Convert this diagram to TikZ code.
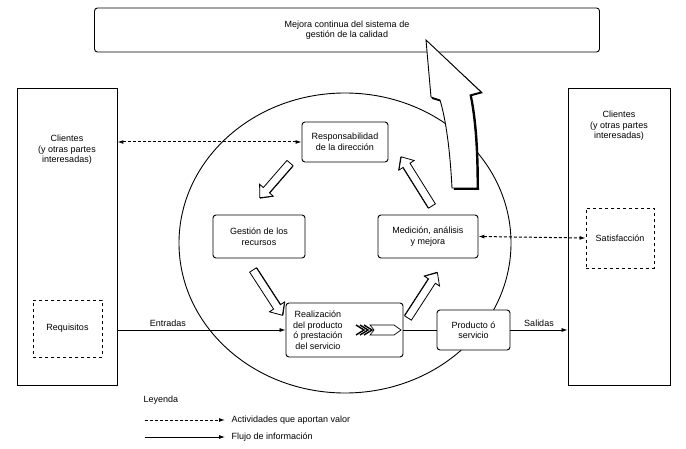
\documentclass[tikz,border=0pt]{standalone}
\usepackage{fontspec}
\setmainfont{Liberation Sans}
\usetikzlibrary{arrows.meta,shapes.geometric}
\begin{document}
\begin{tikzpicture}[x=1pt,y=-1pt,
  every node/.style={font=\fontsize{9}{10.5}\selectfont, align=center},
  box/.style={draw, line width=0.9pt, rounded corners=3pt, inner sep=0pt, fill=white},
  dbox/.style={draw, dashed, line width=0.8pt, inner sep=0pt},
  info/.style={line width=0.8pt, -{Latex[length=6pt,width=4pt]}},
  val/.style={dash pattern=on 3pt off 2pt, line width=1pt},
  fat/.pic={
    \fill[black] (0.5,-4.8) -- (\pgfkeysvalueof{/tikz/fatlen}-10,-4.8) -- (\pgfkeysvalueof{/tikz/fatlen}-10,-9.8) -- (\pgfkeysvalueof{/tikz/fatlen}+0.5,-0.8) -- (\pgfkeysvalueof{/tikz/fatlen}-10,8.2) -- (\pgfkeysvalueof{/tikz/fatlen}-10,3.2) -- (0.5,3.2) -- cycle;
    \draw[fill=white, line width=0.8pt] (0,-4) -- (\pgfkeysvalueof{/tikz/fatlen}-10,-4) -- (\pgfkeysvalueof{/tikz/fatlen}-10,-9) -- (\pgfkeysvalueof{/tikz/fatlen},0) -- (\pgfkeysvalueof{/tikz/fatlen}-10,9) -- (\pgfkeysvalueof{/tikz/fatlen}-10,4) -- (0,4) -- cycle;
  }]
\pgfkeys{/tikz/fatlen/.initial=50}
\useasboundingbox (0,0) rectangle (686,449);

% circle
\draw[line width=0.9pt] (345,243) ellipse [x radius=166, y radius=150];

% top box
\node[box, minimum width=505, minimum height=44] (top) at (347,30) {Mejora continua del sistema de\\gestión de la calidad};

% side boxes
\node[draw, line width=0.9pt, minimum width=100, minimum height=297, inner sep=0pt] (L) at (67,236.5) {};
\node (Lt) at (67,150) {Clientes\\(y otras partes\\interesadas)};
\node[dbox, minimum width=69, minimum height=57] (req) at (67.5,328.5) {Requisitos};
\node[draw, line width=0.9pt, minimum width=102, minimum height=297, inner sep=0pt] (R) at (619,236.5) {};
\node (Rt) at (619,126) {Clientes\\(y otras partes\\interesadas)};
\node[dbox, minimum width=68, minimum height=60] (sat) at (620,238) {Satisfacción};

% inner boxes
\node[box, minimum width=86, minimum height=40] (resp) at (345,142) {Responsabilidad\\de la dirección};
\node[box, minimum width=92, minimum height=43] (ges) at (259,236.5) {Gestión de los\\recursos};
\node[box, minimum width=100, minimum height=43] (med) at (428,236.5) {Medición, análisis\\y mejora};
\node[box, minimum width=117, minimum height=54] (real) at (344.5,330) {};
\node (realt) at (318,330) {Realización\\del producto\\ó prestación\\del servicio};
\node[box, minimum width=73, minimum height=40] (prod) at (473.5,330) {Producto ó\\servicio};

% connectors
\draw[val, {Latex[length=6pt,width=4pt]}-{Latex[length=6pt,width=4pt]}] (L.east |- resp) -- (resp.west);
\draw[val, {Latex[length=6pt,width=4pt]}-{Latex[length=6pt,width=4pt]}] (med.east) -- (sat.west);
\draw[info] (L.east |- real) -- node[above, pos=0.3] {Entradas} (real.west);
\draw[line width=0.8pt] (real.east) -- (prod.west);
\draw[info] (prod.east) -- node[above] {Salidas} (R.west |- prod);

% chevrons in realization box
\foreach \dx in {0,4,8}{
  \draw[line width=1.4pt] (356+\dx,325) -- (364+\dx,330) -- (356+\dx,335);
}
\draw[line width=0.7pt, fill=white] (370,325) -- (394,325) -- (401,330) -- (394,335) -- (370,335) -- (374,330) -- cycle;

% hollow arrows
\pgfkeys{/tikz/fatlen=46}
\pic[rotate=229] at (290,163) {fat};
\pgfkeys{/tikz/fatlen=54}
\pic[rotate=-57] at (253,270) {fat};
\pic[rotate=57] at (408,318) {fat};
\pgfkeys{/tikz/fatlen=58}
\pic[rotate=122] at (432,206) {fat};

% big arrow
\fill[black] (454,190) .. controls (451,150) and (447,120) .. (442,102) -- (432,99) -- (427,41) -- (483,93) -- (472,96)
  .. controls (477,120) and (479,150) .. (479,190) -- cycle;
\draw[line width=0.9pt, fill=white] (452,188) .. controls (450,150) and (446,120) .. (440,100) -- (431,97) -- (426,40) -- (481,92) -- (470,95)
  .. controls (475,120) and (477,150) .. (477,188) -- cycle;

% legend
\node[anchor=west] (ley) at (140,400) {Leyenda};
\coordinate (a1) at (145,420);
\coordinate (a2) at (225,420);
\coordinate (b1) at (145,437);
\coordinate (b2) at (225,437);
\draw[val, -{Latex[length=6pt,width=4pt]}] (a1) -- (a2);
\draw[info] (b1) -- (b2);
\node[anchor=west] (l1) at (228,420) {Actividades que aportan valor};
\node[anchor=west] (l2) at (228,437) {Flujo de información};
\end{tikzpicture}
\end{document}
